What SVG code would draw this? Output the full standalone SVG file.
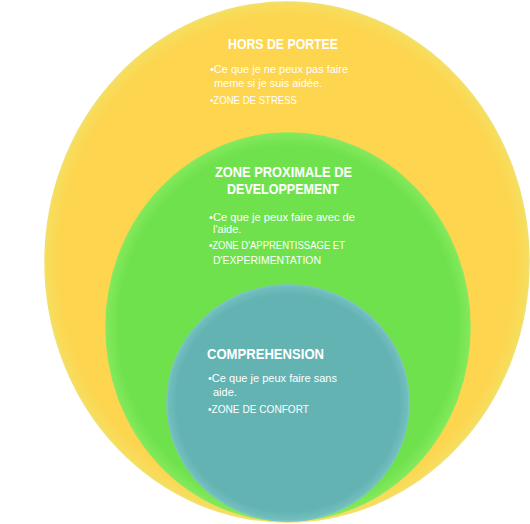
<svg xmlns="http://www.w3.org/2000/svg" width="530" height="524" viewBox="0 0 530 524">
<defs>
<radialGradient id="gY" cx="0.5" cy="0.5" r="0.5">
<stop offset="0.94" stop-color="#FDD54F"/>
<stop offset="1" stop-color="#F6DE5E"/>
</radialGradient>
<radialGradient id="gG" cx="0.5" cy="0.5" r="0.5">
<stop offset="0.93" stop-color="#6FE14D"/>
<stop offset="1" stop-color="#82E95B"/>
</radialGradient>
<radialGradient id="gT" cx="0.5" cy="0.5" r="0.5">
<stop offset="0.92" stop-color="#63B3B3"/>
<stop offset="1" stop-color="#74BFC0"/>
</radialGradient>
<style>
.t{font-family:"Liberation Sans",Arial,sans-serif;font-weight:bold;font-size:15px;fill:#FFFFFF}
.b{font-family:"Liberation Sans",Arial,sans-serif;font-size:11px;fill:#FFFFFF}
</style>
</defs>
<g id="hors-de-portee">
<ellipse cx="287" cy="262" rx="242" ry="260" fill="url(#gY)" stroke="#F1E070" stroke-width="1.5"/>
<text class="t" x="283" y="49" text-anchor="middle" textLength="110" lengthAdjust="spacingAndGlyphs">HORS DE PORTEE</text>
<text class="b" x="210" y="73" textLength="138" lengthAdjust="spacingAndGlyphs">•Ce que je ne peux pas faire</text>
<text class="b" x="214" y="87" textLength="108" lengthAdjust="spacingAndGlyphs">meme si je suis aidée.</text>
<text class="b" x="210" y="104" textLength="87" lengthAdjust="spacingAndGlyphs">•ZONE DE STRESS</text>
</g>
<g id="zone-proximale">
<ellipse cx="288" cy="327" rx="182" ry="194" fill="url(#gG)" stroke="#86E860" stroke-width="1.5"/>
<text class="t" x="283.5" y="177" text-anchor="middle" textLength="137" lengthAdjust="spacingAndGlyphs">ZONE PROXIMALE DE</text>
<text class="t" x="283" y="194" text-anchor="middle" textLength="112" lengthAdjust="spacingAndGlyphs">DEVELOPPEMENT</text>
<text class="b" x="209" y="221" textLength="146" lengthAdjust="spacingAndGlyphs">•Ce que je peux faire avec de</text>
<text class="b" x="213" y="233">l'aide.</text>
<text class="b" x="209" y="249" textLength="136" lengthAdjust="spacingAndGlyphs">•ZONE D'APPRENTISSAGE ET</text>
<text class="b" x="213" y="264" textLength="108" lengthAdjust="spacingAndGlyphs">D'EXPERIMENTATION</text>
</g>
<g id="comprehension">
<ellipse cx="288" cy="403" rx="121" ry="118" fill="url(#gT)" stroke="#7CC3C4" stroke-width="1.5"/>
<text class="t" x="207" y="359" textLength="117" lengthAdjust="spacingAndGlyphs">COMPREHENSION</text>
<text class="b" x="208" y="382" textLength="129" lengthAdjust="spacingAndGlyphs">•Ce que je peux faire sans</text>
<text class="b" x="213" y="396">aide.</text>
<text class="b" x="208" y="413" textLength="101" lengthAdjust="spacingAndGlyphs">•ZONE DE CONFORT</text>
</g>
</svg>
